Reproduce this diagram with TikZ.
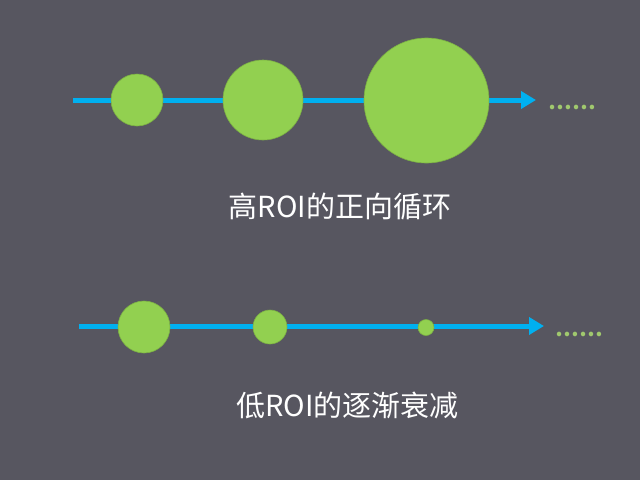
\documentclass[tikz,border=0pt]{standalone}
\usepackage{fontspec}
\setmainfont{Noto Sans CJK SC}
\usetikzlibrary{arrows.meta}
\definecolor{bg}{RGB}{87,86,96}
\definecolor{grn}{RGB}{146,208,80}
\definecolor{blu}{RGB}{0,176,240}
\definecolor{dotc}{RGB}{160,200,110}
\tikzset{
  ball/.style={circle,fill=grn,draw=grn!85!black,line width=0.6pt,inner sep=0pt,minimum size=#1},
  flow/.style={draw=blu,line width=5pt,-{Triangle[length=15pt,width=17pt]}},
  caption/.style={text=white,font=\fontsize{29pt}{32pt}\selectfont,inner sep=0pt},
  more/.style={text=dotc,font=\fontsize{21pt}{24pt}\selectfont\bfseries,inner sep=0pt}
}
\begin{document}
\begin{tikzpicture}[x=1pt,y=-1pt]
\fill[bg] (0,0) rectangle (640,480);
\useasboundingbox (0,0) rectangle (640,480);
% top row
\coordinate (t0) at (73,100);
\coordinate (t1) at (536,100);
\draw[flow] (t0) -- (t1);
\node[ball=52pt] (a1) at (137,100) {};
\node[ball=80pt] (a2) at (263,100) {};
\node[ball=125pt] (a3) at (426.5,100.5) {};
\node[more] (m1) at (572,107) {……};
\node[caption] (c1) at (340,207) {高ROI的正向循环};
% bottom row
\coordinate (b0) at (79,326);
\coordinate (b1) at (544,326);
\draw[flow] (b0) -- (b1);
\node[ball=52pt] (d1) at (144,327) {};
\node[ball=34pt] (d2) at (270,327) {};
\node[ball=16pt] (d3) at (426,327.5) {};
\node[more] (m2) at (579.5,334) {……};
\node[caption] (c2) at (347.5,405) {低ROI的逐渐衰减};
\end{tikzpicture}
\end{document}
